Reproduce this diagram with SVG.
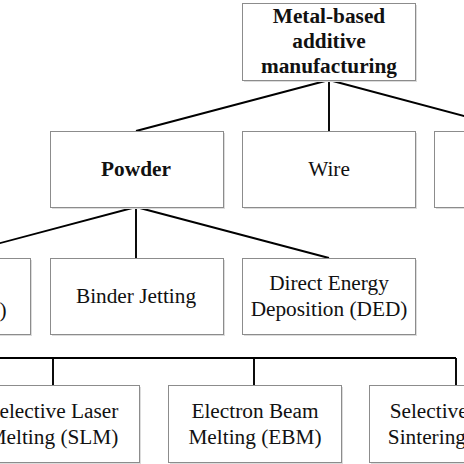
<svg xmlns="http://www.w3.org/2000/svg" width="464" height="464" viewBox="0 0 464 464">
<defs>
<style>
.sh{fill:#dcdcdc;stroke:none}
.bx{fill:#ffffff;stroke:#8c8c8c;stroke-width:1}
text{font-family:'Liberation Serif','DejaVu Serif',serif;font-size:21.3px;fill:#111;text-anchor:middle}
.b{font-weight:bold}
.c{fill:none;stroke:#000;stroke-width:1.9}
</style>
</defs>
<rect width="464" height="464" fill="#fff"/>
<g id="connectors">
<path class="c" d="M329,80 L136,131 M329,80 L329,131 M329,80 L520,131"/>
<path class="c" d="M136,207 L-56,258 M136,207 L136,258 M136,207 L329,258"/>
<path class="c" d="M-56,334 L-56,358 L456,358 M53,358 L53,385 M254,358 L254,385 M456,358 L456,385"/>
</g>
<g id="node-root">
<rect class="sh" x="244" y="5" width="173" height="77"/>
<rect class="bx" x="242.5" y="3.5" width="173" height="77"/>
<text class="b" x="329" y="23">Metal-based</text>
<text class="b" x="329" y="48">additive</text>
<text class="b" x="329" y="73">manufacturing</text>
</g>
<g id="node-powder">
<rect class="sh" x="52" y="133" width="173" height="76"/>
<rect class="bx" x="50.5" y="131.5" width="173" height="76"/>
<text class="b" x="136" y="176">Powder</text>
</g>
<g id="node-wire">
<rect class="sh" x="244" y="133" width="173" height="76"/>
<rect class="bx" x="242.5" y="131.5" width="173" height="76"/>
<text x="329" y="176">Wire</text>
</g>
<g id="node-third">
<rect class="sh" x="436" y="133" width="173" height="76"/>
<rect class="bx" x="434.5" y="131.5" width="173" height="76"/>
</g>
<g id="node-pbf">
<rect class="sh" x="-141" y="260" width="173" height="76"/>
<rect class="bx" x="-142.5" y="258.5" width="173" height="76"/>
<text x="-62" y="290">Powder Bed</text>
<text x="-51" y="317">Fusion (PBF)</text>
</g>
<g id="node-binder">
<rect class="sh" x="52" y="260" width="173" height="76"/>
<rect class="bx" x="50.5" y="258.5" width="173" height="76"/>
<text x="136" y="303">Binder Jetting</text>
</g>
<g id="node-ded">
<rect class="sh" x="244" y="260" width="173" height="76"/>
<rect class="bx" x="242.5" y="258.5" width="173" height="76"/>
<text x="329" y="290">Direct Energy</text>
<text x="329" y="316">Deposition (DED)</text>
</g>
<g id="node-slm">
<rect class="sh" x="-32" y="387" width="173" height="77"/>
<rect class="bx" x="-33.5" y="385.5" width="173" height="77"/>
<text x="53" y="418">Selective Laser</text>
<text x="53" y="444">Melting (SLM)</text>
</g>
<g id="node-ebm">
<rect class="sh" x="170" y="387" width="173" height="77"/>
<rect class="bx" x="168.5" y="385.5" width="173" height="77"/>
<text x="255" y="418">Electron Beam</text>
<text x="255" y="444">Melting (EBM)</text>
</g>
<g id="node-sls">
<rect class="sh" x="371" y="387" width="173" height="77"/>
<rect class="bx" x="369.5" y="385.5" width="173" height="77"/>
<text x="455" y="418">Selective Laser</text>
<text x="455" y="444">Sintering (SLS)</text>
</g>
</svg>
